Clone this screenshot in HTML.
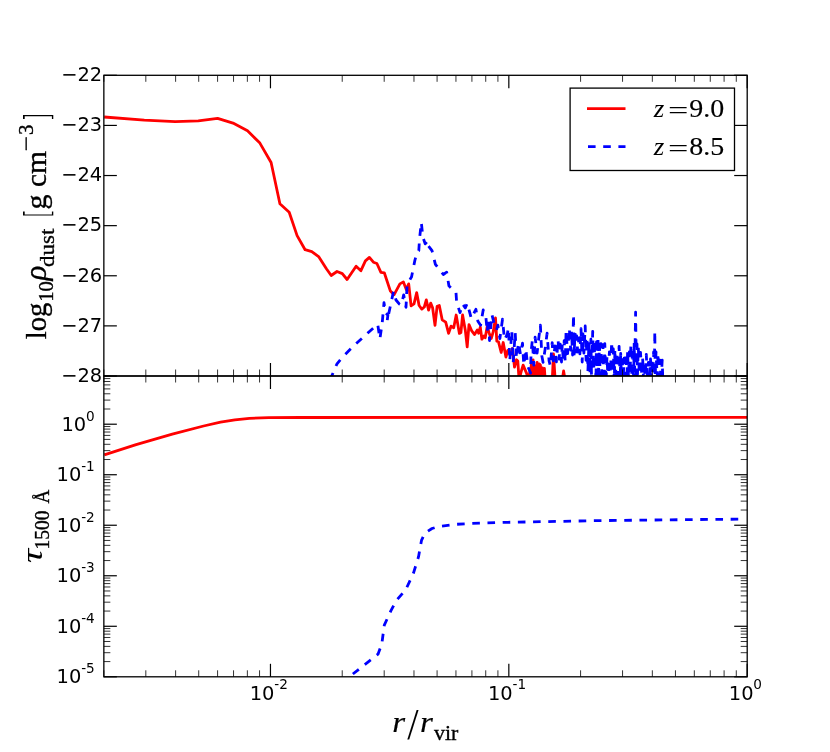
<!DOCTYPE html>
<html><head><meta charset="utf-8"><title>plot</title><style>html,body{margin:0;padding:0;background:#fff}svg{display:block}</style></head><body>
<svg width="830" height="752" viewBox="0 0 830 752">
<rect width="830" height="752" fill="#fff"/>
<defs><clipPath id="c1"><rect x="103.85" y="75.3" width="643.35" height="300.7"/></clipPath><clipPath id="c2"><rect x="103.85" y="376.0" width="643.35" height="300.79999999999995"/></clipPath></defs>
<polyline points="104.2,117.0 144.3,120.2 175.2,121.6 198.3,120.8 217.6,118.3 233.0,123.1 247.5,130.8 259.9,143.1 271.1,162.5 279.9,203.7 289.2,212.2 297.1,235.6 305.1,249.7 311.8,251.6 318.9,256.9 326.4,268.8 331.2,275.5 337.0,271.5 342.3,273.6 347.1,279.5 356.1,266.2 360.9,270.7 365.4,260.9 369.4,257.4 373.4,262.2 376.9,263.5 380.9,272.3 384.3,272.8 390.4,291.1 394.0,294.8 399.9,283.9 403.4,281.9 406.3,289.5 408.7,283.9 411.1,305.8 414.0,303.9 416.7,292.7 419.1,305.5 421.8,309.1 424.3,307.0 426.3,299.9 428.6,310.2 430.7,303.1 432.6,307.8 435.0,325.4 437.1,306.3 439.3,305.5 442.2,319.8 445.7,322.2 448.6,333.4 451.0,326.2 453.7,327.8 456.2,315.0 459.4,333.4 460.9,332.6 462.6,315.0 465.3,330.2 467.2,346.9 469.0,324.6 471.9,331.2 474.6,334.5 477.3,329.9 478.6,333.2 480.3,327.2 481.9,339.2 483.9,335.9 485.2,337.8 487.2,326.5 489.2,333.2 491.2,338.5 493.2,331.9 495.5,317.9 496.8,341.2 498.5,341.8 501.2,352.5 503.2,342.5 505.9,357.1 507.8,350.5 510.5,354.5 512.5,348.5 514.5,367.1 516.5,359.8 517.8,361.1 519.1,380.0 521.1,371.8 523.1,365.1 526.5,373.1 528.5,380.0 529.8,372.0 530.5,383.0 531.3,364.5 532.1,383.0 533.1,359.8 534.0,383.0 535.1,366.0 536.0,383.0 537.1,362.4 538.2,383.0 539.3,364.0 540.4,365.1 541.3,383.0 542.4,368.0 543.3,383.0 544.4,368.4 545.4,383.0 546.4,385.0 552.0,385.0 553.5,354.0 555.5,385.0 561.5,385.0 563.6,371.0 566.0,385.0" fill="none" stroke="#ff0000" stroke-width="2.8" stroke-linejoin="round" clip-path="url(#c1)"/>
<polyline points="330.0,380.0 333.6,371.7 337.0,363.8 342.6,357.0 353.9,345.7 367.5,333.3 377.7,324.2 379.9,338.9 382.2,323.1 384.0,302.7 385.6,312.9 387.9,315.2 387.2,320.8 390.1,307.3 393.5,291.4 396.0,300.0 399.2,303.9 401.4,305.0 403.7,294.8 406.0,307.3 407.1,284.6 411.6,276.7 415.0,259.8 417.3,251.8 418.8,250.7 419.5,239.4 421.3,222.4 422.9,237.1 425.2,243.9 428.1,240.5 428.5,246.0 432.0,250.7 435.4,264.3 443.3,274.5 446.7,272.2 448.9,285.8 452.3,289.2 456.0,292.6 456.6,301.9 460.0,312.6 462.6,303.9 465.3,307.9 467.3,303.3 469.9,313.2 471.3,318.6 474.6,311.9 475.9,309.3 477.9,321.2 480.6,325.2 483.2,309.9 485.9,317.2 487.2,331.9 488.6,318.6 489.5,340.5 491.9,314.6 493.9,322.6 496.5,329.9 497.9,325.2 499.9,338.5 502.5,319.2 503.2,326.5 504.5,339.8 507.2,334.5 508.5,327.9 509.8,361.1 511.8,330.5 513.2,362.4 515.2,332.5 516.5,358.5 518.5,342.5 520.5,354.5 522.5,343.2 523.8,365.1 525.8,349.1 527.8,366.4 530.5,373.1 531.1,351.8 532.4,339.8 533.8,365.1 535.1,337.2 537.1,353.1 538.4,341.2 540.4,325.2 541.8,355.8 543.1,362.4 545.1,349.1 547.1,333.2 549.1,361.1 549.1,361.0 550.4,366.1 552.2,342.6 553.3,360.9 555.0,346.0 556.4,361.8 558.1,339.4 559.1,359.2 560.2,344.2 561.5,362.0 562.3,343.5 563.3,362.1 564.2,340.6 565.2,361.9 566.1,330.9 567.6,353.7 569.3,328.0 570.7,350.1 571.5,331.0 572.6,355.0 573.5,314.4 574.1,355.5 575.0,333.0 575.6,352.1 576.7,336.0 577.7,352.0 578.9,337.9 579.9,353.9 581.0,328.7 582.2,362.0 583.0,334.0 583.9,353.1 585.2,326.0 586.1,360.3 587.0,338.0 587.9,371.2 589.0,341.5 590.0,372.4 590.9,339.2 591.6,382.6 592.7,331.4 593.7,369.2 595.0,340.0 595.9,382.3 596.5,341.9 597.1,382.5 598.0,337.8 598.5,372.9 599.5,344.2 600.1,376.2 601.0,343.6 601.9,381.4 602.9,344.7 604.0,382.2 604.8,343.6 606.0,382.9 607.0,356.0 608.1,381.9 609.4,351.8 610.4,373.1 611.7,341.5 612.7,380.3 613.3,349.0 614.3,381.4 614.9,349.0 615.9,374.6 617.0,352.4 618.1,382.9 619.1,346.3 620.2,381.7 620.7,353.5 621.4,377.4 622.3,359.6 623.1,381.5 624.1,358.2 624.8,383.2 626.0,353.2 626.9,381.4 627.6,350.7 628.5,379.8 629.3,352.0 630.1,373.3 630.9,344.1 631.7,376.7 632.5,347.7 633.6,381.7 634.2,343.0 634.7,371.0 635.6,312.2 636.5,380.5 637.0,344.0 637.5,374.4 638.3,346.8 639.6,381.8 640.5,352.4 641.8,375.8 642.6,357.4 643.6,380.7 644.5,361.7 645.1,383.7 646.3,354.3 647.6,382.2 648.4,362.4 649.6,382.1 650.5,359.0 651.5,378.9 652.0,359.4 652.7,382.5 653.6,352.0 654.3,383.2 654.8,330.9 655.2,377.7 656.0,352.0 657.2,377.3 658.0,353.0 658.9,376.4 660.1,360.2 661.0,383.9 662.2,360.1 662.9,382.8 663.8,380.0" fill="none" stroke="#0000ff" stroke-width="2.8" stroke-linejoin="round" stroke-dasharray="7.6 7.6" stroke-dashoffset="0" clip-path="url(#c1)"/>
<polyline points="104.3,454.9 136.1,444.6 172.3,434.2 203.6,426.0 220.5,422.2 234.9,419.8 249.4,418.3 268.7,417.6 300.0,417.5 747.0,417.3" fill="none" stroke="#ff0000" stroke-width="2.8" stroke-linejoin="round" clip-path="url(#c2)"/>
<polyline points="342.0,683.0 351.5,675.1 360.3,668.1 378.0,654.2 381.8,644.0 384.3,625.1 390.7,611.2 396.2,600.6 405.8,589.7 413.4,573.3 418.5,556.9 421.5,540.4 424.0,535.0 427.3,531.6 432.0,528.5 438.7,526.5 456.4,524.3 470.0,523.5 508.0,522.3 600.0,520.6 700.0,519.5 739.3,519.2" fill="none" stroke="#0000ff" stroke-width="2.8" stroke-linejoin="round" stroke-dasharray="7.6 7.6" stroke-dashoffset="1.1" clip-path="url(#c2)"/>
<line x1="103.85" y1="75.30" x2="103.85" y2="81.80" stroke="#000" stroke-width="0.8"/>
<line x1="103.85" y1="369.50" x2="103.85" y2="382.50" stroke="#000" stroke-width="0.8"/>
<line x1="103.85" y1="670.30" x2="103.85" y2="676.80" stroke="#000" stroke-width="0.8"/>
<line x1="145.82" y1="75.30" x2="145.82" y2="81.80" stroke="#000" stroke-width="0.8"/>
<line x1="145.82" y1="369.50" x2="145.82" y2="382.50" stroke="#000" stroke-width="0.8"/>
<line x1="145.82" y1="670.30" x2="145.82" y2="676.80" stroke="#000" stroke-width="0.8"/>
<line x1="175.61" y1="75.30" x2="175.61" y2="81.80" stroke="#000" stroke-width="0.8"/>
<line x1="175.61" y1="369.50" x2="175.61" y2="382.50" stroke="#000" stroke-width="0.8"/>
<line x1="175.61" y1="670.30" x2="175.61" y2="676.80" stroke="#000" stroke-width="0.8"/>
<line x1="198.71" y1="75.30" x2="198.71" y2="81.80" stroke="#000" stroke-width="0.8"/>
<line x1="198.71" y1="369.50" x2="198.71" y2="382.50" stroke="#000" stroke-width="0.8"/>
<line x1="198.71" y1="670.30" x2="198.71" y2="676.80" stroke="#000" stroke-width="0.8"/>
<line x1="217.58" y1="75.30" x2="217.58" y2="81.80" stroke="#000" stroke-width="0.8"/>
<line x1="217.58" y1="369.50" x2="217.58" y2="382.50" stroke="#000" stroke-width="0.8"/>
<line x1="217.58" y1="670.30" x2="217.58" y2="676.80" stroke="#000" stroke-width="0.8"/>
<line x1="233.54" y1="75.30" x2="233.54" y2="81.80" stroke="#000" stroke-width="0.8"/>
<line x1="233.54" y1="369.50" x2="233.54" y2="382.50" stroke="#000" stroke-width="0.8"/>
<line x1="233.54" y1="670.30" x2="233.54" y2="676.80" stroke="#000" stroke-width="0.8"/>
<line x1="247.36" y1="75.30" x2="247.36" y2="81.80" stroke="#000" stroke-width="0.8"/>
<line x1="247.36" y1="369.50" x2="247.36" y2="382.50" stroke="#000" stroke-width="0.8"/>
<line x1="247.36" y1="670.30" x2="247.36" y2="676.80" stroke="#000" stroke-width="0.8"/>
<line x1="259.56" y1="75.30" x2="259.56" y2="81.80" stroke="#000" stroke-width="0.8"/>
<line x1="259.56" y1="369.50" x2="259.56" y2="382.50" stroke="#000" stroke-width="0.8"/>
<line x1="259.56" y1="670.30" x2="259.56" y2="676.80" stroke="#000" stroke-width="0.8"/>
<line x1="270.46" y1="75.30" x2="270.46" y2="88.30" stroke="#000" stroke-width="1.2"/>
<line x1="270.46" y1="363.00" x2="270.46" y2="389.00" stroke="#000" stroke-width="1.2"/>
<line x1="270.46" y1="663.80" x2="270.46" y2="676.80" stroke="#000" stroke-width="1.2"/>
<line x1="342.22" y1="75.30" x2="342.22" y2="81.80" stroke="#000" stroke-width="0.8"/>
<line x1="342.22" y1="369.50" x2="342.22" y2="382.50" stroke="#000" stroke-width="0.8"/>
<line x1="342.22" y1="670.30" x2="342.22" y2="676.80" stroke="#000" stroke-width="0.8"/>
<line x1="384.19" y1="75.30" x2="384.19" y2="81.80" stroke="#000" stroke-width="0.8"/>
<line x1="384.19" y1="369.50" x2="384.19" y2="382.50" stroke="#000" stroke-width="0.8"/>
<line x1="384.19" y1="670.30" x2="384.19" y2="676.80" stroke="#000" stroke-width="0.8"/>
<line x1="413.97" y1="75.30" x2="413.97" y2="81.80" stroke="#000" stroke-width="0.8"/>
<line x1="413.97" y1="369.50" x2="413.97" y2="382.50" stroke="#000" stroke-width="0.8"/>
<line x1="413.97" y1="670.30" x2="413.97" y2="676.80" stroke="#000" stroke-width="0.8"/>
<line x1="437.08" y1="75.30" x2="437.08" y2="81.80" stroke="#000" stroke-width="0.8"/>
<line x1="437.08" y1="369.50" x2="437.08" y2="382.50" stroke="#000" stroke-width="0.8"/>
<line x1="437.08" y1="670.30" x2="437.08" y2="676.80" stroke="#000" stroke-width="0.8"/>
<line x1="455.95" y1="75.30" x2="455.95" y2="81.80" stroke="#000" stroke-width="0.8"/>
<line x1="455.95" y1="369.50" x2="455.95" y2="382.50" stroke="#000" stroke-width="0.8"/>
<line x1="455.95" y1="670.30" x2="455.95" y2="676.80" stroke="#000" stroke-width="0.8"/>
<line x1="471.91" y1="75.30" x2="471.91" y2="81.80" stroke="#000" stroke-width="0.8"/>
<line x1="471.91" y1="369.50" x2="471.91" y2="382.50" stroke="#000" stroke-width="0.8"/>
<line x1="471.91" y1="670.30" x2="471.91" y2="676.80" stroke="#000" stroke-width="0.8"/>
<line x1="485.73" y1="75.30" x2="485.73" y2="81.80" stroke="#000" stroke-width="0.8"/>
<line x1="485.73" y1="369.50" x2="485.73" y2="382.50" stroke="#000" stroke-width="0.8"/>
<line x1="485.73" y1="670.30" x2="485.73" y2="676.80" stroke="#000" stroke-width="0.8"/>
<line x1="497.92" y1="75.30" x2="497.92" y2="81.80" stroke="#000" stroke-width="0.8"/>
<line x1="497.92" y1="369.50" x2="497.92" y2="382.50" stroke="#000" stroke-width="0.8"/>
<line x1="497.92" y1="670.30" x2="497.92" y2="676.80" stroke="#000" stroke-width="0.8"/>
<line x1="508.83" y1="75.30" x2="508.83" y2="88.30" stroke="#000" stroke-width="1.2"/>
<line x1="508.83" y1="363.00" x2="508.83" y2="389.00" stroke="#000" stroke-width="1.2"/>
<line x1="508.83" y1="663.80" x2="508.83" y2="676.80" stroke="#000" stroke-width="1.2"/>
<line x1="580.59" y1="75.30" x2="580.59" y2="81.80" stroke="#000" stroke-width="0.8"/>
<line x1="580.59" y1="369.50" x2="580.59" y2="382.50" stroke="#000" stroke-width="0.8"/>
<line x1="580.59" y1="670.30" x2="580.59" y2="676.80" stroke="#000" stroke-width="0.8"/>
<line x1="622.56" y1="75.30" x2="622.56" y2="81.80" stroke="#000" stroke-width="0.8"/>
<line x1="622.56" y1="369.50" x2="622.56" y2="382.50" stroke="#000" stroke-width="0.8"/>
<line x1="622.56" y1="670.30" x2="622.56" y2="676.80" stroke="#000" stroke-width="0.8"/>
<line x1="652.34" y1="75.30" x2="652.34" y2="81.80" stroke="#000" stroke-width="0.8"/>
<line x1="652.34" y1="369.50" x2="652.34" y2="382.50" stroke="#000" stroke-width="0.8"/>
<line x1="652.34" y1="670.30" x2="652.34" y2="676.80" stroke="#000" stroke-width="0.8"/>
<line x1="675.44" y1="75.30" x2="675.44" y2="81.80" stroke="#000" stroke-width="0.8"/>
<line x1="675.44" y1="369.50" x2="675.44" y2="382.50" stroke="#000" stroke-width="0.8"/>
<line x1="675.44" y1="670.30" x2="675.44" y2="676.80" stroke="#000" stroke-width="0.8"/>
<line x1="694.32" y1="75.30" x2="694.32" y2="81.80" stroke="#000" stroke-width="0.8"/>
<line x1="694.32" y1="369.50" x2="694.32" y2="382.50" stroke="#000" stroke-width="0.8"/>
<line x1="694.32" y1="670.30" x2="694.32" y2="676.80" stroke="#000" stroke-width="0.8"/>
<line x1="710.28" y1="75.30" x2="710.28" y2="81.80" stroke="#000" stroke-width="0.8"/>
<line x1="710.28" y1="369.50" x2="710.28" y2="382.50" stroke="#000" stroke-width="0.8"/>
<line x1="710.28" y1="670.30" x2="710.28" y2="676.80" stroke="#000" stroke-width="0.8"/>
<line x1="724.10" y1="75.30" x2="724.10" y2="81.80" stroke="#000" stroke-width="0.8"/>
<line x1="724.10" y1="369.50" x2="724.10" y2="382.50" stroke="#000" stroke-width="0.8"/>
<line x1="724.10" y1="670.30" x2="724.10" y2="676.80" stroke="#000" stroke-width="0.8"/>
<line x1="736.29" y1="75.30" x2="736.29" y2="81.80" stroke="#000" stroke-width="0.8"/>
<line x1="736.29" y1="369.50" x2="736.29" y2="382.50" stroke="#000" stroke-width="0.8"/>
<line x1="736.29" y1="670.30" x2="736.29" y2="676.80" stroke="#000" stroke-width="0.8"/>
<line x1="747.20" y1="75.30" x2="747.20" y2="88.30" stroke="#000" stroke-width="1.2"/>
<line x1="747.20" y1="363.00" x2="747.20" y2="389.00" stroke="#000" stroke-width="1.2"/>
<line x1="747.20" y1="663.80" x2="747.20" y2="676.80" stroke="#000" stroke-width="1.2"/>
<line x1="103.85" y1="376.00" x2="116.85" y2="376.00" stroke="#000" stroke-width="1.2"/>
<line x1="734.20" y1="376.00" x2="747.20" y2="376.00" stroke="#000" stroke-width="1.2"/>
<line x1="103.85" y1="325.88" x2="116.85" y2="325.88" stroke="#000" stroke-width="1.2"/>
<line x1="734.20" y1="325.88" x2="747.20" y2="325.88" stroke="#000" stroke-width="1.2"/>
<line x1="103.85" y1="275.77" x2="116.85" y2="275.77" stroke="#000" stroke-width="1.2"/>
<line x1="734.20" y1="275.77" x2="747.20" y2="275.77" stroke="#000" stroke-width="1.2"/>
<line x1="103.85" y1="225.65" x2="116.85" y2="225.65" stroke="#000" stroke-width="1.2"/>
<line x1="734.20" y1="225.65" x2="747.20" y2="225.65" stroke="#000" stroke-width="1.2"/>
<line x1="103.85" y1="175.53" x2="116.85" y2="175.53" stroke="#000" stroke-width="1.2"/>
<line x1="734.20" y1="175.53" x2="747.20" y2="175.53" stroke="#000" stroke-width="1.2"/>
<line x1="103.85" y1="125.42" x2="116.85" y2="125.42" stroke="#000" stroke-width="1.2"/>
<line x1="734.20" y1="125.42" x2="747.20" y2="125.42" stroke="#000" stroke-width="1.2"/>
<line x1="103.85" y1="75.30" x2="116.85" y2="75.30" stroke="#000" stroke-width="1.2"/>
<line x1="734.20" y1="75.30" x2="747.20" y2="75.30" stroke="#000" stroke-width="1.2"/>
<line x1="103.85" y1="676.80" x2="116.85" y2="676.80" stroke="#000" stroke-width="1.2"/>
<line x1="734.20" y1="676.80" x2="747.20" y2="676.80" stroke="#000" stroke-width="1.2"/>
<line x1="103.85" y1="661.59" x2="110.35" y2="661.59" stroke="#000" stroke-width="0.8"/>
<line x1="740.70" y1="661.59" x2="747.20" y2="661.59" stroke="#000" stroke-width="0.8"/>
<line x1="103.85" y1="652.70" x2="110.35" y2="652.70" stroke="#000" stroke-width="0.8"/>
<line x1="740.70" y1="652.70" x2="747.20" y2="652.70" stroke="#000" stroke-width="0.8"/>
<line x1="103.85" y1="646.38" x2="110.35" y2="646.38" stroke="#000" stroke-width="0.8"/>
<line x1="740.70" y1="646.38" x2="747.20" y2="646.38" stroke="#000" stroke-width="0.8"/>
<line x1="103.85" y1="641.49" x2="110.35" y2="641.49" stroke="#000" stroke-width="0.8"/>
<line x1="740.70" y1="641.49" x2="747.20" y2="641.49" stroke="#000" stroke-width="0.8"/>
<line x1="103.85" y1="637.49" x2="110.35" y2="637.49" stroke="#000" stroke-width="0.8"/>
<line x1="740.70" y1="637.49" x2="747.20" y2="637.49" stroke="#000" stroke-width="0.8"/>
<line x1="103.85" y1="634.11" x2="110.35" y2="634.11" stroke="#000" stroke-width="0.8"/>
<line x1="740.70" y1="634.11" x2="747.20" y2="634.11" stroke="#000" stroke-width="0.8"/>
<line x1="103.85" y1="631.18" x2="110.35" y2="631.18" stroke="#000" stroke-width="0.8"/>
<line x1="740.70" y1="631.18" x2="747.20" y2="631.18" stroke="#000" stroke-width="0.8"/>
<line x1="103.85" y1="628.59" x2="110.35" y2="628.59" stroke="#000" stroke-width="0.8"/>
<line x1="740.70" y1="628.59" x2="747.20" y2="628.59" stroke="#000" stroke-width="0.8"/>
<line x1="103.85" y1="626.28" x2="116.85" y2="626.28" stroke="#000" stroke-width="1.2"/>
<line x1="734.20" y1="626.28" x2="747.20" y2="626.28" stroke="#000" stroke-width="1.2"/>
<line x1="103.85" y1="611.07" x2="110.35" y2="611.07" stroke="#000" stroke-width="0.8"/>
<line x1="740.70" y1="611.07" x2="747.20" y2="611.07" stroke="#000" stroke-width="0.8"/>
<line x1="103.85" y1="602.18" x2="110.35" y2="602.18" stroke="#000" stroke-width="0.8"/>
<line x1="740.70" y1="602.18" x2="747.20" y2="602.18" stroke="#000" stroke-width="0.8"/>
<line x1="103.85" y1="595.87" x2="110.35" y2="595.87" stroke="#000" stroke-width="0.8"/>
<line x1="740.70" y1="595.87" x2="747.20" y2="595.87" stroke="#000" stroke-width="0.8"/>
<line x1="103.85" y1="590.97" x2="110.35" y2="590.97" stroke="#000" stroke-width="0.8"/>
<line x1="740.70" y1="590.97" x2="747.20" y2="590.97" stroke="#000" stroke-width="0.8"/>
<line x1="103.85" y1="586.97" x2="110.35" y2="586.97" stroke="#000" stroke-width="0.8"/>
<line x1="740.70" y1="586.97" x2="747.20" y2="586.97" stroke="#000" stroke-width="0.8"/>
<line x1="103.85" y1="583.59" x2="110.35" y2="583.59" stroke="#000" stroke-width="0.8"/>
<line x1="740.70" y1="583.59" x2="747.20" y2="583.59" stroke="#000" stroke-width="0.8"/>
<line x1="103.85" y1="580.66" x2="110.35" y2="580.66" stroke="#000" stroke-width="0.8"/>
<line x1="740.70" y1="580.66" x2="747.20" y2="580.66" stroke="#000" stroke-width="0.8"/>
<line x1="103.85" y1="578.07" x2="110.35" y2="578.07" stroke="#000" stroke-width="0.8"/>
<line x1="740.70" y1="578.07" x2="747.20" y2="578.07" stroke="#000" stroke-width="0.8"/>
<line x1="103.85" y1="575.76" x2="116.85" y2="575.76" stroke="#000" stroke-width="1.2"/>
<line x1="734.20" y1="575.76" x2="747.20" y2="575.76" stroke="#000" stroke-width="1.2"/>
<line x1="103.85" y1="560.56" x2="110.35" y2="560.56" stroke="#000" stroke-width="0.8"/>
<line x1="740.70" y1="560.56" x2="747.20" y2="560.56" stroke="#000" stroke-width="0.8"/>
<line x1="103.85" y1="551.66" x2="110.35" y2="551.66" stroke="#000" stroke-width="0.8"/>
<line x1="740.70" y1="551.66" x2="747.20" y2="551.66" stroke="#000" stroke-width="0.8"/>
<line x1="103.85" y1="545.35" x2="110.35" y2="545.35" stroke="#000" stroke-width="0.8"/>
<line x1="740.70" y1="545.35" x2="747.20" y2="545.35" stroke="#000" stroke-width="0.8"/>
<line x1="103.85" y1="540.45" x2="110.35" y2="540.45" stroke="#000" stroke-width="0.8"/>
<line x1="740.70" y1="540.45" x2="747.20" y2="540.45" stroke="#000" stroke-width="0.8"/>
<line x1="103.85" y1="536.45" x2="110.35" y2="536.45" stroke="#000" stroke-width="0.8"/>
<line x1="740.70" y1="536.45" x2="747.20" y2="536.45" stroke="#000" stroke-width="0.8"/>
<line x1="103.85" y1="533.07" x2="110.35" y2="533.07" stroke="#000" stroke-width="0.8"/>
<line x1="740.70" y1="533.07" x2="747.20" y2="533.07" stroke="#000" stroke-width="0.8"/>
<line x1="103.85" y1="530.14" x2="110.35" y2="530.14" stroke="#000" stroke-width="0.8"/>
<line x1="740.70" y1="530.14" x2="747.20" y2="530.14" stroke="#000" stroke-width="0.8"/>
<line x1="103.85" y1="527.56" x2="110.35" y2="527.56" stroke="#000" stroke-width="0.8"/>
<line x1="740.70" y1="527.56" x2="747.20" y2="527.56" stroke="#000" stroke-width="0.8"/>
<line x1="103.85" y1="525.24" x2="116.85" y2="525.24" stroke="#000" stroke-width="1.2"/>
<line x1="734.20" y1="525.24" x2="747.20" y2="525.24" stroke="#000" stroke-width="1.2"/>
<line x1="103.85" y1="510.04" x2="110.35" y2="510.04" stroke="#000" stroke-width="0.8"/>
<line x1="740.70" y1="510.04" x2="747.20" y2="510.04" stroke="#000" stroke-width="0.8"/>
<line x1="103.85" y1="501.14" x2="110.35" y2="501.14" stroke="#000" stroke-width="0.8"/>
<line x1="740.70" y1="501.14" x2="747.20" y2="501.14" stroke="#000" stroke-width="0.8"/>
<line x1="103.85" y1="494.83" x2="110.35" y2="494.83" stroke="#000" stroke-width="0.8"/>
<line x1="740.70" y1="494.83" x2="747.20" y2="494.83" stroke="#000" stroke-width="0.8"/>
<line x1="103.85" y1="489.93" x2="110.35" y2="489.93" stroke="#000" stroke-width="0.8"/>
<line x1="740.70" y1="489.93" x2="747.20" y2="489.93" stroke="#000" stroke-width="0.8"/>
<line x1="103.85" y1="485.93" x2="110.35" y2="485.93" stroke="#000" stroke-width="0.8"/>
<line x1="740.70" y1="485.93" x2="747.20" y2="485.93" stroke="#000" stroke-width="0.8"/>
<line x1="103.85" y1="482.55" x2="110.35" y2="482.55" stroke="#000" stroke-width="0.8"/>
<line x1="740.70" y1="482.55" x2="747.20" y2="482.55" stroke="#000" stroke-width="0.8"/>
<line x1="103.85" y1="479.62" x2="110.35" y2="479.62" stroke="#000" stroke-width="0.8"/>
<line x1="740.70" y1="479.62" x2="747.20" y2="479.62" stroke="#000" stroke-width="0.8"/>
<line x1="103.85" y1="477.04" x2="110.35" y2="477.04" stroke="#000" stroke-width="0.8"/>
<line x1="740.70" y1="477.04" x2="747.20" y2="477.04" stroke="#000" stroke-width="0.8"/>
<line x1="103.85" y1="474.73" x2="116.85" y2="474.73" stroke="#000" stroke-width="1.2"/>
<line x1="734.20" y1="474.73" x2="747.20" y2="474.73" stroke="#000" stroke-width="1.2"/>
<line x1="103.85" y1="459.52" x2="110.35" y2="459.52" stroke="#000" stroke-width="0.8"/>
<line x1="740.70" y1="459.52" x2="747.20" y2="459.52" stroke="#000" stroke-width="0.8"/>
<line x1="103.85" y1="450.62" x2="110.35" y2="450.62" stroke="#000" stroke-width="0.8"/>
<line x1="740.70" y1="450.62" x2="747.20" y2="450.62" stroke="#000" stroke-width="0.8"/>
<line x1="103.85" y1="444.31" x2="110.35" y2="444.31" stroke="#000" stroke-width="0.8"/>
<line x1="740.70" y1="444.31" x2="747.20" y2="444.31" stroke="#000" stroke-width="0.8"/>
<line x1="103.85" y1="439.41" x2="110.35" y2="439.41" stroke="#000" stroke-width="0.8"/>
<line x1="740.70" y1="439.41" x2="747.20" y2="439.41" stroke="#000" stroke-width="0.8"/>
<line x1="103.85" y1="435.41" x2="110.35" y2="435.41" stroke="#000" stroke-width="0.8"/>
<line x1="740.70" y1="435.41" x2="747.20" y2="435.41" stroke="#000" stroke-width="0.8"/>
<line x1="103.85" y1="432.03" x2="110.35" y2="432.03" stroke="#000" stroke-width="0.8"/>
<line x1="740.70" y1="432.03" x2="747.20" y2="432.03" stroke="#000" stroke-width="0.8"/>
<line x1="103.85" y1="429.10" x2="110.35" y2="429.10" stroke="#000" stroke-width="0.8"/>
<line x1="740.70" y1="429.10" x2="747.20" y2="429.10" stroke="#000" stroke-width="0.8"/>
<line x1="103.85" y1="426.52" x2="110.35" y2="426.52" stroke="#000" stroke-width="0.8"/>
<line x1="740.70" y1="426.52" x2="747.20" y2="426.52" stroke="#000" stroke-width="0.8"/>
<line x1="103.85" y1="424.21" x2="116.85" y2="424.21" stroke="#000" stroke-width="1.2"/>
<line x1="734.20" y1="424.21" x2="747.20" y2="424.21" stroke="#000" stroke-width="1.2"/>
<line x1="103.85" y1="409.00" x2="110.35" y2="409.00" stroke="#000" stroke-width="0.8"/>
<line x1="740.70" y1="409.00" x2="747.20" y2="409.00" stroke="#000" stroke-width="0.8"/>
<line x1="103.85" y1="400.10" x2="110.35" y2="400.10" stroke="#000" stroke-width="0.8"/>
<line x1="740.70" y1="400.10" x2="747.20" y2="400.10" stroke="#000" stroke-width="0.8"/>
<line x1="103.85" y1="393.79" x2="110.35" y2="393.79" stroke="#000" stroke-width="0.8"/>
<line x1="740.70" y1="393.79" x2="747.20" y2="393.79" stroke="#000" stroke-width="0.8"/>
<line x1="103.85" y1="388.90" x2="110.35" y2="388.90" stroke="#000" stroke-width="0.8"/>
<line x1="740.70" y1="388.90" x2="747.20" y2="388.90" stroke="#000" stroke-width="0.8"/>
<line x1="103.85" y1="384.90" x2="110.35" y2="384.90" stroke="#000" stroke-width="0.8"/>
<line x1="740.70" y1="384.90" x2="747.20" y2="384.90" stroke="#000" stroke-width="0.8"/>
<line x1="103.85" y1="381.51" x2="110.35" y2="381.51" stroke="#000" stroke-width="0.8"/>
<line x1="740.70" y1="381.51" x2="747.20" y2="381.51" stroke="#000" stroke-width="0.8"/>
<line x1="103.85" y1="378.58" x2="110.35" y2="378.58" stroke="#000" stroke-width="0.8"/>
<line x1="740.70" y1="378.58" x2="747.20" y2="378.58" stroke="#000" stroke-width="0.8"/>
<line x1="103.85" y1="376.00" x2="110.35" y2="376.00" stroke="#000" stroke-width="0.8"/>
<line x1="740.70" y1="376.00" x2="747.20" y2="376.00" stroke="#000" stroke-width="0.8"/>
<rect x="103.85" y="75.3" width="643.35" height="300.7" fill="none" stroke="#000" stroke-width="1.3"/>
<rect x="103.85" y="376.0" width="643.35" height="300.79999999999995" fill="none" stroke="#000" stroke-width="1.3"/>
<text x="102.2" y="381.7" font-family="DejaVu Sans, Liberation Sans, sans-serif" font-size="19.44" text-anchor="end">−28</text>
<text x="102.2" y="331.6" font-family="DejaVu Sans, Liberation Sans, sans-serif" font-size="19.44" text-anchor="end">−27</text>
<text x="102.2" y="281.5" font-family="DejaVu Sans, Liberation Sans, sans-serif" font-size="19.44" text-anchor="end">−26</text>
<text x="102.2" y="231.3" font-family="DejaVu Sans, Liberation Sans, sans-serif" font-size="19.44" text-anchor="end">−25</text>
<text x="102.2" y="181.2" font-family="DejaVu Sans, Liberation Sans, sans-serif" font-size="19.44" text-anchor="end">−24</text>
<text x="102.2" y="131.1" font-family="DejaVu Sans, Liberation Sans, sans-serif" font-size="19.44" text-anchor="end">−23</text>
<text x="102.2" y="81.0" font-family="DejaVu Sans, Liberation Sans, sans-serif" font-size="19.44" text-anchor="end">−22</text>
<text x="56.6" y="683.3" font-family="DejaVu Sans, Liberation Sans, sans-serif" font-size="19.44">10<tspan font-size="13.61" dy="-10.1" dx="-0.2">-5</tspan></text>
<text x="56.6" y="632.8" font-family="DejaVu Sans, Liberation Sans, sans-serif" font-size="19.44">10<tspan font-size="13.61" dy="-10.1" dx="-0.2">-4</tspan></text>
<text x="56.6" y="582.3" font-family="DejaVu Sans, Liberation Sans, sans-serif" font-size="19.44">10<tspan font-size="13.61" dy="-10.1" dx="-0.2">-3</tspan></text>
<text x="56.6" y="531.7" font-family="DejaVu Sans, Liberation Sans, sans-serif" font-size="19.44">10<tspan font-size="13.61" dy="-10.1" dx="-0.2">-2</tspan></text>
<text x="56.6" y="481.2" font-family="DejaVu Sans, Liberation Sans, sans-serif" font-size="19.44">10<tspan font-size="13.61" dy="-10.1" dx="-0.2">-1</tspan></text>
<text x="61.5" y="430.7" font-family="DejaVu Sans, Liberation Sans, sans-serif" font-size="19.44">10<tspan font-size="13.61" dy="-10.1" dx="-0.2">0</tspan></text>
<text x="249.7" y="699.5" font-family="DejaVu Sans, Liberation Sans, sans-serif" font-size="19.44">10<tspan font-size="13.61" dy="-10.1" dx="-0.2">-2</tspan></text>
<text x="488.0" y="699.5" font-family="DejaVu Sans, Liberation Sans, sans-serif" font-size="19.44">10<tspan font-size="13.61" dy="-10.1" dx="-0.2">-1</tspan></text>
<text x="728.8" y="699.5" font-family="DejaVu Sans, Liberation Sans, sans-serif" font-size="19.44">10<tspan font-size="13.61" dy="-10.1" dx="-0.2">0</tspan></text>
<rect x="570.1" y="88.1" width="164.4" height="82.4" fill="#fff" stroke="#000" stroke-width="1.3"/>
<line x1="587" y1="108.6" x2="625.5" y2="108.6" stroke="#ff0000" stroke-width="2.8"/>
<line x1="588" y1="146.6" x2="625.5" y2="146.6" stroke="#0000ff" stroke-width="2.8" stroke-dasharray="7.6 7.6"/>
<text x="653.8" y="117.0" font-family="Liberation Serif, DejaVu Serif, serif" font-size="25" font-style="italic" textLength="10.5" lengthAdjust="spacingAndGlyphs">z</text>
<text x="668.1" y="118.4" font-family="Liberation Serif, DejaVu Serif, serif" font-size="23.5" textLength="20.4" lengthAdjust="spacingAndGlyphs">=</text>
<text x="689.3" y="117.4" font-family="Liberation Serif, DejaVu Serif, serif" font-size="26" textLength="34.9" lengthAdjust="spacingAndGlyphs" stroke="#000" stroke-width="0.15">9.0</text>
<text x="653.8" y="154.8" font-family="Liberation Serif, DejaVu Serif, serif" font-size="25" font-style="italic" textLength="10.5" lengthAdjust="spacingAndGlyphs">z</text>
<text x="668.1" y="156.20000000000002" font-family="Liberation Serif, DejaVu Serif, serif" font-size="23.5" textLength="20.4" lengthAdjust="spacingAndGlyphs">=</text>
<text x="689.3" y="155.20000000000002" font-family="Liberation Serif, DejaVu Serif, serif" font-size="26" textLength="34.9" lengthAdjust="spacingAndGlyphs" stroke="#000" stroke-width="0.15">8.5</text>
<text x="392.3" y="731.9" font-family="Liberation Serif, DejaVu Serif, serif" font-size="29.5" font-style="italic" textLength="12.9" lengthAdjust="spacingAndGlyphs" stroke="#000" stroke-width="0.15">r</text>
<text x="406.8" y="735.9" font-family="DejaVu Sans Light, DejaVu Sans, sans-serif" font-weight="200" font-size="35.3" textLength="12.4" lengthAdjust="spacingAndGlyphs">/</text>
<text x="420.0" y="731.9" font-family="Liberation Serif, DejaVu Serif, serif" font-size="29.5" font-style="italic" textLength="12.9" lengthAdjust="spacingAndGlyphs" stroke="#000" stroke-width="0.15">r</text>
<text x="434" y="739.9" font-family="Liberation Serif, DejaVu Serif, serif" font-size="21.5" textLength="24.3" lengthAdjust="spacingAndGlyphs" stroke="#000" stroke-width="0.35">vir</text>
<g transform="translate(45.8,0) rotate(-90)">
<text x="-339.2" y="0" font-family="Liberation Serif, DejaVu Serif, serif" font-size="30" textLength="36.6" lengthAdjust="spacingAndGlyphs" stroke="#000" stroke-width="0.35">log</text>
<text x="-301.8" y="7.6" font-family="Liberation Serif, DejaVu Serif, serif" font-size="21" textLength="20.5" lengthAdjust="spacingAndGlyphs" stroke="#000" stroke-width="0.35">10</text>
<text x="-280.5" y="0" font-family="Liberation Serif, DejaVu Serif, serif" font-size="31" font-style="italic" stroke="#000" stroke-width="0.35">ρ</text>
<text x="-267.0" y="7.7" font-family="Liberation Serif, DejaVu Serif, serif" font-size="21" textLength="38.4" lengthAdjust="spacingAndGlyphs" stroke="#000" stroke-width="0.35">dust</text>
<text x="-218.2" y="2.7" font-family="DejaVu Sans Light, DejaVu Sans, sans-serif" font-weight="200" font-size="33.2" textLength="9.3" lengthAdjust="spacingAndGlyphs" >[</text>
<text x="-209.5" y="0" font-family="Liberation Serif, DejaVu Serif, serif" font-size="30" stroke="#000" stroke-width="0.35">g</text>
<text x="-187.0" y="0" font-family="Liberation Serif, DejaVu Serif, serif" font-size="30" textLength="36.0" lengthAdjust="spacingAndGlyphs" stroke="#000" stroke-width="0.35">cm</text>
<text x="-151.3" y="-12.5" font-family="Liberation Serif, DejaVu Serif, serif" font-size="21" textLength="15.0" lengthAdjust="spacingAndGlyphs" stroke="#000" stroke-width="0.35">−</text>
<text x="-135.0" y="-12.5" font-family="Liberation Serif, DejaVu Serif, serif" font-size="21" stroke="#000" stroke-width="0.35">3</text>
<text x="-121.8" y="2.7" font-family="DejaVu Sans Light, DejaVu Sans, sans-serif" font-weight="200" font-size="33.2" textLength="9.3" lengthAdjust="spacingAndGlyphs" >]</text>
</g>
<g transform="translate(41.6,0) rotate(-90)">
<text x="-563.1" y="0" font-family="Liberation Serif, DejaVu Serif, serif" font-size="29" font-style="italic" textLength="14" lengthAdjust="spacingAndGlyphs">τ</text>
<text x="-549.4" y="7.4" font-family="Liberation Serif, DejaVu Serif, serif" font-size="21" textLength="38.8" lengthAdjust="spacingAndGlyphs" stroke="#000" stroke-width="0.35">1500</text>
<text x="-503.6" y="7.4" font-family="Liberation Serif, DejaVu Serif, serif" font-size="20" textLength="13.8" lengthAdjust="spacingAndGlyphs" stroke="#000" stroke-width="0.35">Å</text>
</g>
</svg>
</body></html>
